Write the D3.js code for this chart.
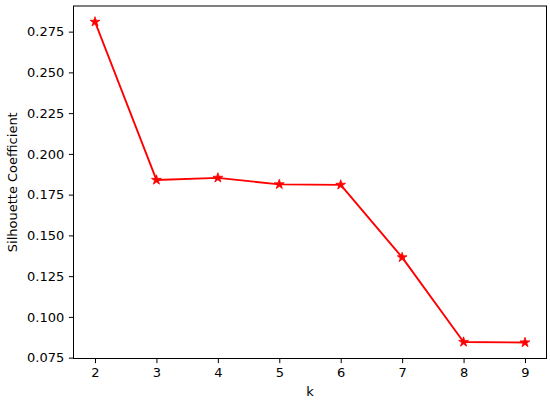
<!DOCTYPE html>
<html>
<head>
<meta charset="utf-8">
<script src="https://cdn.jsdelivr.net/npm/d3@7"></script>
<style>
  body { margin: 0; background: #fff; }
  svg { display: block; font-family: "DejaVu Sans", sans-serif; }
  .axis text { font-family: "DejaVu Sans", sans-serif; font-size: 13px; fill: #000; }
  .axis path, .axis line { stroke: #000; stroke-width: 1px; }
</style>
</head>
<body>
<div id="chart"></div>
<script>
"use strict";

var k_values = [2, 3, 4, 5, 6, 7, 8, 9];
var silhouette = [0.281, 0.184, 0.1853, 0.1813, 0.181, 0.1365, 0.0846, 0.0843];
var y_ticks = [0.075, 0.100, 0.125, 0.150, 0.175, 0.200, 0.225, 0.250, 0.275];

var width = 550, height = 405;
var margin = { left: 73.5, right: 3.5, top: 6, bottom: 46.5 };

var svg = d3.select("#chart")
    .append("svg")
    .attr("width", width)
    .attr("height", height);

// matplotlib style 5% margins
var x = d3.scaleLinear()
    .domain([1.65, 9.35])
    .range([margin.left, width - margin.right]);
var y = d3.scaleLinear()
    .domain([0.07448, 0.29072])
    .range([height - margin.bottom, margin.top]);

var xAxis = d3.axisBottom(x)
    .tickValues(k_values)
    .tickFormat(d3.format("d"))
    .tickSize(4.6)
    .tickPadding(4.4);
var yAxis = d3.axisLeft(y)
    .tickValues(y_ticks)
    .tickFormat(d3.format(".3f"))
    .tickSize(4.6)
    .tickPadding(4.6);

svg.append("g")
    .attr("class", "axis")
    .attr("transform", "translate(0," + (height - margin.bottom) + ")")
    .call(xAxis)
    .call(function(g) { g.select(".domain").remove(); });
svg.append("g")
    .attr("class", "axis")
    .attr("transform", "translate(" + margin.left + ",0)")
    .call(yAxis)
    .call(function(g) { g.select(".domain").remove(); });

// frame
svg.append("rect")
    .attr("x", margin.left)
    .attr("y", margin.top)
    .attr("width", width - margin.left - margin.right)
    .attr("height", height - margin.top - margin.bottom)
    .attr("fill", "none")
    .attr("stroke", "#000")
    .attr("stroke-width", 1);

// line
var line = d3.line()
    .x(function(d, i) { return x(k_values[i]); })
    .y(function(d) { return y(d); });

svg.append("path")
    .attr("d", line(silhouette))
    .attr("fill", "none")
    .attr("stroke", "#ff0000")
    .attr("stroke-width", 1.9)
    .attr("stroke-linejoin", "round")
    .attr("stroke-linecap", "square");

var star = d3.symbol().type(d3.symbolStar).size(30);
svg.selectAll("path.marker")
    .data(silhouette)
    .enter()
    .append("path")
    .attr("class", "marker")
    .attr("d", star)
    .attr("transform", function(d, i) {
        return "translate(" + x(k_values[i]) + "," + y(d) + ")";
    })
    .attr("fill", "#ff0000")
    .attr("stroke", "#ff0000")
    .attr("stroke-width", 0.8);

// labels
svg.append("text")
    .attr("x", x(5.5))
    .attr("y", 396)
    .attr("text-anchor", "middle")
    .style("font-size", "13px")
    .text("k");
svg.append("text")
    .attr("transform", "translate(17," + y(0.1826) + ") rotate(-90)")
    .attr("text-anchor", "middle")
    .style("font-size", "13px")
    .text("Silhouette Coefficient");
</script>
</body>
</html>
